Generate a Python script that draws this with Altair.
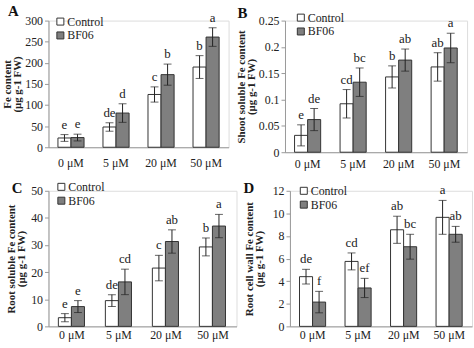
import altair as alt
import pandas as pd

doses = ["0 μM", "5 μM", "20 μM", "50 μM"]
groups = ["Control", "BF06"]

# Panel A: Fe content
a_ctrl = [22, 48, 125, 190]
a_ctrl_err = [8, 10, 18, 27]
a_bf = [23, 81, 172, 261]
a_bf_err = [8, 22, 25, 22]
a_ctrl_let = ["e", "de", "c", "b"]
a_bf_let = ["e", "d", "b", "a"]

# Panel B: shoot soluble Fe content
b_ctrl = [0.032, 0.092, 0.143, 0.162]
b_ctrl_err = [0.020, 0.027, 0.021, 0.027]
b_bf = [0.062, 0.133, 0.175, 0.198]
b_bf_err = [0.021, 0.027, 0.021, 0.028]
b_ctrl_let = ["e", "cd", "b", "ab"]
b_bf_let = ["de", "bc", "ab", "a"]

# Panel C: root soluble Fe content
c_ctrl = [3.2, 9.5, 21.5, 29.3]
c_ctrl_err = [1.5, 2.2, 4.7, 3.3]
c_bf = [7.3, 16.4, 31.3, 37.0]
c_bf_err = [2.2, 4.7, 4.3, 4.3]
c_ctrl_let = ["e", "de", "c", "b"]
c_bf_let = ["e", "cd", "ab", "a"]

# Panel D: root cell wall Fe content
d_ctrl = [4.4, 5.75, 8.55, 9.65]
d_ctrl_err = [0.65, 0.75, 1.2, 1.5]
d_bf = [2.15, 3.4, 7.05, 8.15]
d_bf_err = [0.95, 0.85, 1.1, 0.7]
d_ctrl_let = ["de", "cd", "ab", "a"]
d_bf_let = ["f", "ef", "bc", "ab"]

FONT = "Liberation Serif"


def panel(letter, ytitle, ctrl, ctrl_err, bf, bf_err, ctrl_let, bf_let,
          ymax, step, fmt, w, h, extent, xpad, lx, ly, legx, legy):
    rows = []
    for i, d in enumerate(doses):
        rows.append(dict(dose=d, group="Control", mean=ctrl[i],
                         lo=ctrl[i] - ctrl_err[i], hi=ctrl[i] + ctrl_err[i],
                         lab=ctrl_let[i]))
        rows.append(dict(dose=d, group="BF06", mean=bf[i],
                         lo=bf[i] - bf_err[i], hi=bf[i] + bf_err[i],
                         lab=bf_let[i]))
    df = pd.DataFrame(rows)
    ticks = []
    v = 0.0
    while v <= ymax + 1e-9:
        ticks.append(round(v, 6))
        v += step
    x = alt.X("dose:N", sort=doses, title=None,
              scale=alt.Scale(paddingInner=0.42, paddingOuter=0.21),
              axis=alt.Axis(labelAngle=0, ticks=False, domainColor="#999",
                            labelFont=FONT, labelFontSize=12,
                            labelColor="#222", labelPadding=xpad))
    xo = alt.XOffset("group:N", sort=groups, scale=alt.Scale(paddingInner=0))
    yaxis = alt.Axis(values=ticks, format=fmt, grid=False,
                     labelOverlap=False,
                     tickSize=4, domainColor="#999", tickColor="#999",
                     labelFont=FONT, labelFontSize=12,
                     labelColor="#222", labelPadding=2,
                     minExtent=extent, maxExtent=extent,
                     titleFont=FONT, titleFontSize=11,
                     titleLineHeight=10,
                     titleFontWeight="bold", titleColor="#222",
                     titlePadding=2)
    yscale = alt.Scale(domain=[0, ymax], nice=False)

    def yenc(field):
        return alt.Y(field, type="quantitative", title=ytitle,
                     scale=yscale, axis=yaxis)

    base = alt.Chart(df).encode(x=x, xOffset=xo)
    bars = base.mark_bar(stroke="#333", strokeWidth=1).encode(
        y=yenc("mean"),
        color=alt.Color("group:N", sort=groups,
                        scale=alt.Scale(domain=groups,
                                        range=["#ffffff", "#7f7f7f"]),
                        legend=alt.Legend(title=None, orient="none",
                                          legendX=legx, legendY=legy,
                                          symbolType="square",
                                          symbolSize=50,
                                          symbolStrokeColor="#333",
                                          symbolStrokeWidth=1,
                                          labelFont=FONT, labelFontSize=12,
                                          labelColor="#222", rowPadding=2,
                                          labelOffset=1, padding=0)),
    )
    rule = base.mark_rule(color="#222", strokeWidth=1).encode(
        y=yenc("lo"), y2="hi:Q")
    cap_lo = base.mark_tick(color="#222", size=8, thickness=1).encode(
        y=yenc("lo"))
    cap_hi = base.mark_tick(color="#222", size=8, thickness=1).encode(
        y=yenc("hi"))
    txt = base.mark_text(baseline="bottom", dy=-3, font=FONT, fontSize=13,
                         color="#222").encode(y=yenc("hi"), text="lab:N")
    tag = alt.Chart(pd.DataFrame({"panel": [letter]})).mark_text(
        align="left", baseline="top", font=FONT, fontSize=15,
        fontWeight="bold", color="#111").encode(
        text="panel:N", x=alt.value(lx), y=alt.value(ly))
    return alt.layer(bars, rule, cap_lo, cap_hi, txt, tag).properties(
        width=w, height=h)


pa = panel("A", ["Fe content", "(μg g-1 FW)"], a_ctrl, a_ctrl_err, a_bf,
           a_bf_err, a_ctrl_let, a_bf_let, 300, 50, "d", 182, 128,
           24, 10, -41, -17, 6, -5)
pb = panel("B", ["Shoot soluble Fe content", "(μg g-1 FW)"], b_ctrl,
           b_ctrl_err, b_bf, b_bf_err, b_ctrl_let, b_bf_let, 0.25, 0.05,
           "~g", 184, 133, 27, 6, -48, -15, 10, -9)
pc = panel("C", ["Root soluble Fe content", "(μg g-1 FW)"], c_ctrl,
           c_ctrl_err, c_bf, c_bf_err, c_ctrl_let, c_bf_let, 50, 10, "d",
           190, 137, 20, 3, -37, -10, 7, -10)
pd_ = panel("D", ["Root cell wall  Fe content", "(μg g-1 FW)"], d_ctrl,
            d_ctrl_err, d_bf, d_bf_err, d_ctrl_let, d_bf_let, 12, 2, "d",
            184, 137, 24, 3, -47, -10, 8, -6)

top = alt.hconcat(pa, pb, spacing=5).resolve_scale(color="independent")
bottom = alt.hconcat(pc, pd_, spacing=5).resolve_scale(color="independent")
chart = alt.vconcat(top, bottom, spacing=10).resolve_scale(
    color="independent").configure_view(stroke=None).configure_legend(
    labelFont=FONT, labelFontSize=12).configure(
    background="white", padding=1)

chart.save("out.html", embed_options={"renderer": "svg", "actions": False})
